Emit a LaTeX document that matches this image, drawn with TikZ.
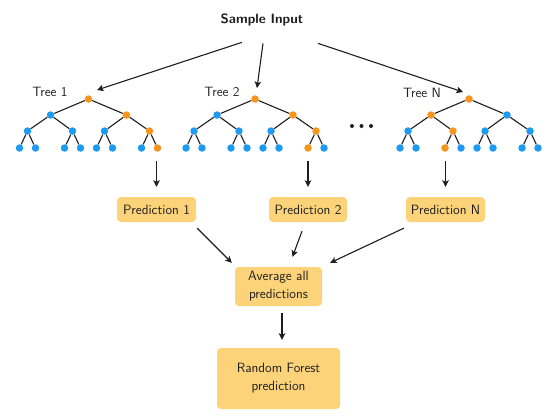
\documentclass[tikz,border=0pt]{standalone}
\usetikzlibrary{arrows.meta}
\definecolor{tblue}{RGB}{30,155,240}
\definecolor{torange}{RGB}{247,148,30}
\definecolor{boxc}{RGB}{253,211,122}
\definecolor{ink}{RGB}{30,30,30}
\tikzset{
  dotn/.style={circle, fill=tblue, inner sep=0pt, minimum size=7.5pt},
  edge/.style={draw=ink, line width=1.1pt},
  arr/.style={draw=ink, line width=1.1pt, -{Stealth[length=6.5pt,width=6.5pt,inset=1.5pt]}},
  txt/.style={font=\sffamily\fontsize{13.5}{18}\selectfont, text=ink, inner sep=0pt},
  box/.style={txt, fill=boxc, rounded corners=4pt, align=center},
  oT1r/.style={fill=torange}, oT1b/.style={fill=torange}, oT1bb/.style={fill=torange}, oT1bbb/.style={fill=torange},
  oT2r/.style={fill=torange}, oT2b/.style={fill=torange}, oT2bb/.style={fill=torange}, oT2bba/.style={fill=torange},
  oTNr/.style={fill=torange}, oTNa/.style={fill=torange}, oTNab/.style={fill=torange}, oTNaba/.style={fill=torange},
}
\newcommand\forestTree[2]{%
  \foreach \n/\dx/\yy in {r/0/99, a/-38/115, b/38/115, aa/-61/131, ab/-16/131, ba/16/131, bb/61/131,
      aaa/-69/148, aab/-53/148, aba/-24/148, abb/-8/148, baa/8/148, bab/24/148, bba/53/148, bbb/69/148}
    \node[dotn, o#1\n/.try] (#1\n) at ({#2+\dx},\yy) {};
  \foreach \p/\c in {r/a, r/b, a/aa, a/ab, b/ba, b/bb, aa/aaa, aa/aab, ab/aba, ab/abb, ba/baa, ba/bab, bb/bba, bb/bbb}
    \draw[edge] (#1\p) -- (#1\c);
}
\begin{document}
\begin{tikzpicture}[x=1pt, y=-1pt]
\useasboundingbox (0,0) rectangle (550,418);
% title
\node[txt, font=\sffamily\bfseries\fontsize{13.5}{16}\selectfont] (si) at (262,20) {Sample Input};
% tree labels
\node[txt] (l1) at (50,92) {Tree 1};
\node[txt] (l2) at (222,92) {Tree 2};
\node[txt] (l3) at (422,93) {Tree N};
% trees
\forestTree{T1}{88.5}
\forestTree{T2}{255}
\forestTree{TN}{469}
% ellipsis
\fill[ink] (352,126) circle (2) (361.5,126) circle (2) (371,126) circle (2);
% arrow ends near roots
\coordinate (e1) at (97,90);
\coordinate (e2) at (257,88);
\coordinate (e3) at (463,92);
\draw[arr] ([shift={(-20,16)}]si.south) -- (e1);
\draw[arr] ([shift={(1,17)}]si.south) -- (e2);
\draw[arr] ([shift={(56,17)}]si.south) -- (e3);
% prediction boxes
\node[box, minimum width=79pt, minimum height=25pt] (p1) at (156.5,209.5) {Prediction 1};
\node[box, minimum width=78pt, minimum height=25pt] (p2) at (308,209.5) {Prediction 2};
\node[box, minimum width=79pt, minimum height=25pt] (p3) at (445.5,209.5) {Prediction N};
\node[box, minimum width=87pt, minimum height=39pt] (avg) at (278.5,286.5) {Average all\\predictions};
\node[box, minimum width=123pt, minimum height=61pt] (rf) at (278.5,378.5) {Random Forest\\prediction};
% tree -> prediction
\coordinate (d1) at (156.5,161);
\coordinate (d2) at (308,161);
\coordinate (d3) at (445.5,161);
\draw[arr] (d1) -- ([yshift=10pt]p1.north);
\draw[arr] (d2) -- ([yshift=10pt]p2.north);
\draw[arr] (d3) -- ([yshift=10pt]p3.north);
% prediction -> average
\draw[arr] ([shift={(1,6)}]p1.south east) -- ([shift={(-3,-4)}]avg.north west);
\draw[arr] ([shift={(-6,9)}]p2.south) -- ([shift={(14,-10)}]avg.north);
\draw[arr] ([shift={(-2,6)}]p3.south west) -- ([shift={(8,-4)}]avg.north east);
% average -> rf
\draw[arr] ([shift={(3.5,7)}]avg.south) -- ([shift={(3.5,-8)}]rf.north);
\end{tikzpicture}
\end{document}
